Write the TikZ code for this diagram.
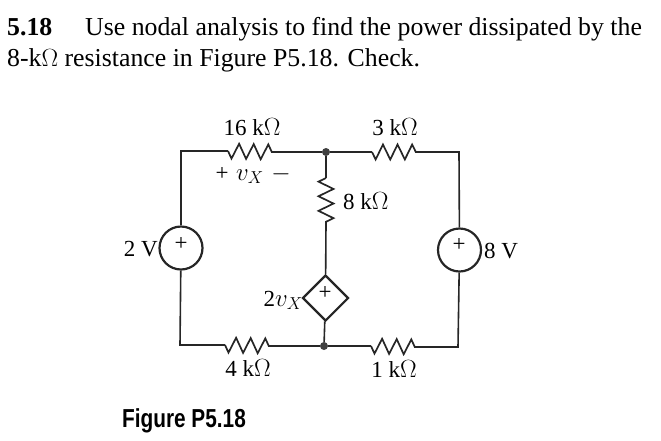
\documentclass[tikz,border=0pt]{standalone}
\usepackage{fontspec}
\setmainfont{Liberation Serif}
\setsansfont{Liberation Sans}
\usetikzlibrary{decorations.pathmorphing,shapes.geometric}
\tikzset{
  wire/.style={line width=1.6pt,black!85},
  res/.style={line width=1.7pt,black!85,decoration={zigzag,mirror,segment length=14.6pt,amplitude=7.5pt},decorate},
  src/.style={circle,draw,line width=2.2pt,black!85,minimum size=43pt,inner sep=0pt},
  dep/.style={diamond,draw,line width=2.2pt,black!85,minimum size=46pt,inner sep=0pt},
  dot/.style={circle,fill=black!75,minimum size=8pt,inner sep=0pt},
  lab/.style={font=\fontsize{23}{23}\selectfont,inner sep=0pt,anchor=base},
  txt/.style={font=\fontsize{25.8}{25.8}\selectfont,inner sep=0pt,anchor=base west},
}
\begin{document}
\begin{tikzpicture}[x=1pt,y=-1pt]
\useasboundingbox (0,0) rectangle (661,440);
% Draw the corners and ends of the resistors
        \coordinate (TL) at (181,151);
        \coordinate (TR) at (459,152);
        \coordinate (BL) at (180,345);
        \coordinate (BR) at (458,347);
        \coordinate (Ra) at (228,151);
        \coordinate (Rb) at (272,152);
        \coordinate (Rc) at (372,152);
        \coordinate (Rd) at (416,152);
        \coordinate (Re) at (225,345);
        \coordinate (Rf) at (270,346);
        \coordinate (Rg) at (371,346);
        \coordinate (Rh) at (415,347);
        \coordinate (Ri) at (326,178);
        \coordinate (Rj) at (326,223);
% Draw the sources and junctions
        \node[src] (VL) at (181,248) {};
        \node[src] (VR) at (459.5,250) {};
        \node[dep] (VD) at (325.5,298) {};
        \node[dot] (NT) at (326,152) {};
        \node[dot] (NB) at (324,346) {};
% Draw the wires
        \draw[wire] (VL) -- (TL) -- (Ra);
        \draw[res] (Ra) -- (Rb);
        \draw[wire] (Rb) -- (NT) -- (Rc);
        \draw[res] (Rc) -- (Rd);
        \draw[wire] (Rd) -- (TR) -- (VR);
        \draw[wire] (VL) -- (BL) -- (Re);
        \draw[res] (Re) -- (Rf);
        \draw[wire] (Rf) -- (NB) -- (Rg);
        \draw[res] (Rg) -- (Rh);
        \draw[wire] (Rh) -- (BR) -- (VR);
        \draw[wire] (NT) -- (Ri);
        \draw[res] (Ri) -- (Rj);
        \draw[wire] (Rj) -- (VD);
        \draw[wire] (VD) -- (NB);
% Draw the labels
        \node[lab] (lA) at (252,135) {16 k$\Omega$};
        \node[lab] (lB) at (395,135) {3 k$\Omega$};
        \node[lab,anchor=base west] (lC) at (343,209) {8 k$\Omega$};
        \node[lab] (lD) at (248,376) {4 k$\Omega$};
        \node[lab] (lE) at (394,377) {1 k$\Omega$};
        \node[lab,anchor=base east] (lF) at (158,256) {2 V};
        \node[lab,anchor=base west] (lG) at (484,258) {8 V};
        \node[lab] (lH) at (222,180) {+};
        \node[lab] (lI) at (250,180) {$v_{X}$};
        \node[lab] (lJ) at (281,180) {$-$};
        \node[lab,anchor=base east] (lK) at (303,306) {2$v_{X}$};
        \node[lab] (pA) at (181,250) {+};
        \node[lab] (pB) at (459,251) {+};
        \node[lab] (pC) at (325,299) {+};
% Draw the text
        \node[txt] (tA) at (7,35) {\textbf{5.18}};
        \node[txt] (tB) at (85,35) {Use nodal analysis to find the power dissipated by the};
        \node[txt] (tC) at (7,66) {8-k$\Omega$ resistance in Figure P5.18. Check.};
        \node[inner sep=0pt,anchor=base west,xscale=.8,font=\sffamily\bfseries\fontsize{26}{26}\selectfont] (tD) at (122,427) {Figure P5.18};
\end{tikzpicture}
\end{document}
